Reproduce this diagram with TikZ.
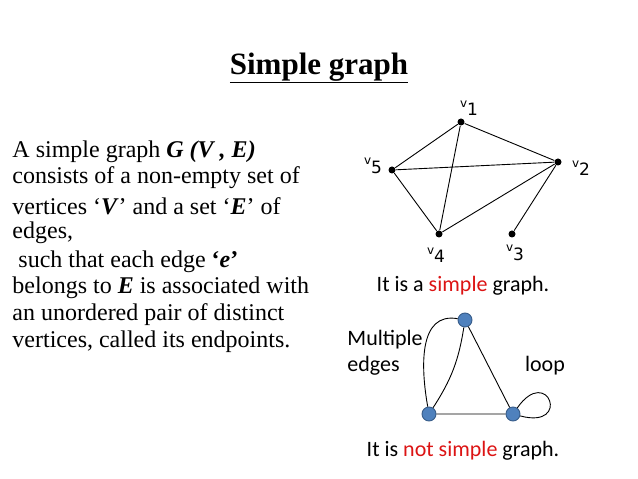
\documentclass[tikz,border=0pt]{standalone}
\usepackage{fontspec}
\setmainfont{Liberation Serif}
\newfontfamily\calib{Carlito}
\newfontfamily\labfont{DejaVu Sans}
\usetikzlibrary{positioning}
\definecolor{nodeblue}{RGB}{79,129,189}
\definecolor{edgeblue}{RGB}{56,93,138}
\definecolor{simplered}{RGB}{220,20,20}
\tikzset{
  dot/.style={circle,fill=black,inner sep=0pt,minimum size=7pt},
  bnode/.style={circle,fill=nodeblue,draw=edgeblue,inner sep=0pt,minimum size=14pt},
  vlab/.style={font=\labfont\fontsize{12}{12}\selectfont,inner sep=0pt},
  txt/.style={anchor=west,inner sep=0pt,font=\fontsize{24}{26}\selectfont},
  captxt/.style={font=\calib\fontsize{22}{26}\selectfont,inner sep=0pt}
}
\newcommand{\vl}[1]{v\raisebox{-1.3ex}{\fontsize{17}{17}\selectfont #1}}
\begin{document}
\begin{tikzpicture}[x=1pt,y=1pt,line width=0.9pt]
  \useasboundingbox (0,0) rectangle (638,479);
  % title
  \node[font=\bfseries\fontsize{31}{34}\selectfont] (title) at (319,411) {\underline{Simple graph}};
  % left text
  \node[txt] (l1) at (12,327) {A simple graph \textbf{\textit{G (V , E)}}};
  \node[txt] (l2) at (12,301) {consists of a non-empty set of};
  \node[txt] (l3) at (12,273) {vertices `\textbf{\textit{V}}' and a set `\textbf{\textit{E}}' of};
  \node[txt] (l4) at (12,246) {edges,};
  \node[txt] (l5) at (12,217) {\ such that each edge \textbf{`\textit{e}'}};
  \node[txt] (l6) at (12,191) {belongs to \textbf{\textit{E}} is associated with};
  \node[txt] (l7) at (12,164) {an unordered pair of distinct};
  \node[txt] (l8) at (12,137) {vertices, called its endpoints.};
  % simple graph
  \node[dot] (v1) at (461,357) {};
  \node[dot] (v2) at (558,317) {};
  \node[dot] (v3) at (512,245) {};
  \node[dot] (v4) at (439,245) {};
  \node[dot] (v5) at (392,309) {};
  \node[vlab] (lv1) at (469,371) {\vl{1}};
  \node[vlab] (lv2) at (581,311) {\vl{2}};
  \node[vlab] (lv3) at (515,226) {\vl{3}};
  \node[vlab] (lv4) at (436,224) {\vl{4}};
  \node[vlab] (lv5) at (373,313) {\vl{5}};
  \draw (v1) -- (v2) -- (v3)
        (v1) -- (v5) -- (v2) -- (v4) -- (v1)
        (v5) -- (v4);
  \node[captxt] (c1) at (463,193) {It is a \textcolor{simplered}{simple} graph.};
  % not simple graph
  \node[bnode] (a) at (465,159) {};
  \node[bnode] (b) at (429,65) {};
  \node[bnode] (c) at (513,65) {};
  \draw (a) -- (c) -- (b);
  \draw (b) to[bend right=12] (a);
  \draw (b) to[out=100,in=170,looseness=1.1] (a);
  \draw (c) to[out=55,in=-15,looseness=16] (c);
  \node[captxt,anchor=west,align=left] (multi) at (347,126) {Multiple\\edges};
  \node[captxt] (loop) at (545,113) {loop};
  \node[captxt] (c2) at (463,28) {It is \textcolor{simplered}{not simple} graph.};
\end{tikzpicture}
\end{document}
